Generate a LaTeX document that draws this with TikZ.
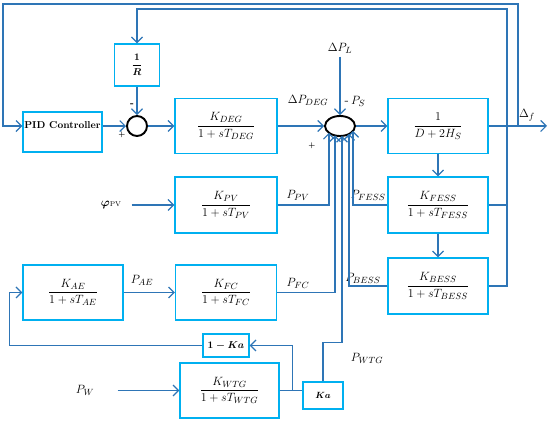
\documentclass[tikz,border=0pt]{standalone}
\usepackage{amsmath,amssymb,amsfonts}
\usepackage{xcolor}
\usepackage{tikz}
\usetikzlibrary{shapes.geometric,arrows.meta,positioning}

\definecolor{boxblue}{RGB}{0,176,240}
\definecolor{lineblue}{RGB}{46,117,182}

\begin{document}
\begin{tikzpicture}[x=1pt, y=-1pt, node distance=80pt, font=\fontsize{13}{15}\selectfont]
  \tikzstyle{block} = [rectangle, draw=boxblue, line width=1.3pt, text centered, inner sep=1pt]
  \tikzstyle{line} = [draw=lineblue, line width=1.2pt, -{Straight Barb[length=5.5pt,width=11pt]}]
  \tikzstyle{wire} = [draw=lineblue, line width=1.2pt]
  \tikzstyle{sum} = [draw, line width=1.9pt, inner sep=0pt]

  \useasboundingbox (0,0) rectangle (550,422);

  \node [block, minimum width=102pt, minimum height=55pt] (kdeg) at (226,126) {$\dfrac{K_{DEG}}{1+sT_{DEG}}$};
  \node [sum, circle, minimum size=20pt, left of=kdeg, node distance=89pt] (sum1) {};
  \node [block, minimum width=45pt, minimum height=42pt, above of=sum1, node distance=61pt] (rbox) {\normalsize$\boldsymbol{\dfrac{1}{R}}$};
  \node [block, minimum width=79pt, minimum height=40pt, text depth=14.5pt, left of=sum1, node distance=74.5pt, yshift=-6pt, font=\normalsize\bfseries] (pid) {PID Controller};
  \node [sum, ellipse, minimum width=30pt, minimum height=20pt, right of=kdeg, node distance=114pt] (sum2) {};
  \node [block, minimum width=100pt, minimum height=55pt, right of=sum2, node distance=98pt] (plant) {$\dfrac{1}{D+2H_S}$};
  \node [block, minimum width=100pt, minimum height=56pt, below of=plant, node distance=79pt] (fess) {$\dfrac{K_{FESS}}{1+sT_{FESS}}$};
  \node [block, minimum width=100pt, minimum height=56pt, below of=fess, node distance=81pt] (bess) {$\dfrac{K_{BESS}}{1+sT_{BESS}}$};
  \node [block, minimum width=102pt, minimum height=56pt, below of=kdeg, node distance=79pt] (pv) {$\dfrac{K_{PV}}{1+sT_{PV}}$};
  \node [block, minimum width=101pt, minimum height=55pt, below of=pv, node distance=87.5pt] (fc) {$\dfrac{K_{FC}}{1+sT_{FC}}$};
  \node [block, minimum width=100pt, minimum height=55pt, left of=fc, node distance=153pt] (ae) {$\dfrac{K_{AE}}{1+sT_{AE}}$};
  \node [block, minimum width=46pt, minimum height=23pt, below of=fc, node distance=53pt] (oneka) {\normalsize$\boldsymbol{1-Ka}$};
  \node [block, minimum width=99pt, minimum height=55pt, below of=fc, node distance=98pt, xshift=3.5pt] (wtg) {$\dfrac{K_{WTG}}{1+sT_{WTG}}$};
  \node [block, minimum width=40pt, minimum height=27pt, right of=wtg, node distance=93.5pt, yshift=-5pt] (ka) {\small$\boldsymbol{Ka}$};

  \node [above of=sum2, node distance=78pt] (dpl) {$\Delta P_L$};
  \node [above of=sum2, node distance=26pt, xshift=-32pt] (dpdeg) {$\Delta P_{DEG}$};
  \node [above of=sum2, node distance=25pt, xshift=15pt] (ps) {-\,$P_S$};
  \node [below of=sum2, node distance=20pt, xshift=-28pt, font=\scriptsize\bfseries] (plus2) {+};
  \node [above of=sum1, node distance=21pt, xshift=-5pt, font=\normalsize\bfseries] (minus1) {-};
  \node [below of=sum1, node distance=9pt, xshift=-15pt, font=\scriptsize\bfseries] (plus1) {+};
  \node [right of=plant, node distance=89pt, yshift=11pt] (df) {$\Delta_f$};
  \node [above of=pv, node distance=10pt, xshift=72pt] (ppv) {$P_{PV}$};
  \node [above of=fc, node distance=9.5pt, xshift=72pt] (pfc) {$P_{FC}$};
  \node [above of=fess, node distance=10pt, xshift=-70pt] (pfess) {$P_{FESS}$};
  \node [above of=bess, node distance=8pt, xshift=-75pt] (pbess) {$P_{BESS}$};
  \node [above of=ae, node distance=12.5pt, xshift=69pt] (pae) {$P_{AE}$};
  \node [above of=ka, node distance=37.5pt, xshift=44pt] (pwtg) {$P_{WTG}$};
  \node [left of=wtg, node distance=144.5pt] (pw) {$P_W$};
  \node [left of=pv, node distance=115pt] (phi) {$\boldsymbol{\varphi}${\scriptsize PV}};

  \coordinate [right of=plant, node distance=109pt] (out);
  \coordinate [right of=plant, node distance=80pt] (jf);
  \coordinate (tl) at (3,4);
  \coordinate (fb) at (507,9);
  \coordinate (jk) at ([xshift=12.5pt]wtg.east);

  \path [line] (pid.mid east) -- (pid.mid east -| sum1.west);
  \path [line] (rbox) -- (sum1);
  \path [line] (sum1) -- (kdeg);
  \path [line] (kdeg) -- (sum2);
  \path [line] (sum2) -- (plant);
  \path [line] (plant) -- (out);
  \path [line] (plant) -- (fess);
  \path [line] (fess) -- (bess);
  \path [line] (dpl) -- (sum2);
  \path [line] (jf) |- (tl) |- (pid.mid west);
  \path [line] (bess.east) -| (fb) -| (rbox.north);
  \path [wire] (fess.east) -- (fess.east -| fb);
  \path [line] (pv.east) -| ([xshift=-11pt,yshift=-6.8pt]sum2.center);
  \path [line] (fc.east) -| ([xshift=-5pt,yshift=-9.4pt]sum2.center);
  \path [line] (ka.north) -- ++(0,-39) -| ([xshift=2pt,yshift=-9.9pt]sum2.center);
  \path [line] (bess.west) -| ([xshift=9pt,yshift=-8pt]sum2.center);
  \path [line] (fess.west) -| ([xshift=13pt,yshift=-5pt]sum2.center);
  \path [wire] (wtg.east) -- (wtg.east -| ka.west);
  \path [line] (jk) |- (oneka.east);
  \path [line] (oneka.west) -| ([xshift=-13pt]ae.west) -- (ae.west);
  \path [line] (ae) -- (fc);
  \path [line, shorten <=20pt] (pw) -- (wtg);
  \path [line, shorten <=7pt] (phi) -- (pv);
\end{tikzpicture}
\end{document}
